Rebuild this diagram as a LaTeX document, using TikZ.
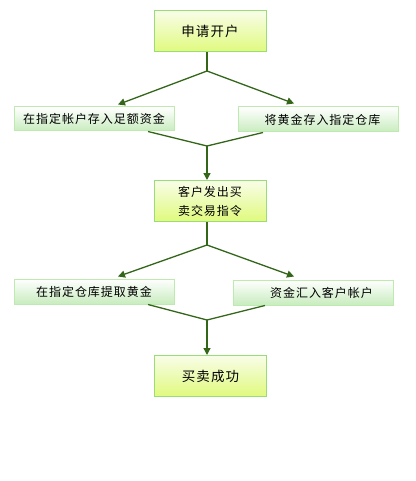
\documentclass[tikz,border=0pt]{standalone}
\usepackage{fontspec}
\setmainfont[LetterSpace=8]{Noto Sans CJK SC}
\usetikzlibrary{arrows.meta}
\definecolor{linegreen}{RGB}{51,102,25}
\definecolor{bigtop}{RGB}{248,253,232}
\definecolor{bigbottom}{RGB}{224,250,125}
\definecolor{bigborder}{RGB}{152,221,120}
\definecolor{smalltop}{RGB}{255,255,255}
\definecolor{smallbottom}{RGB}{200,236,190}
\definecolor{smallborder}{RGB}{190,234,176}
\newcommand*{\bigtextstyle}{\fontsize{13.5}{19}\selectfont}
\newcommand*{\smalltextstyle}{\fontsize{12}{16}\selectfont}
\begin{document}
\begin{tikzpicture}[x=1pt, y=-1pt, >={Triangle[length=7pt,width=7pt]}]
    \useasboundingbox[fill=white] (0,0) rectangle (415,481);

    % main steps
    \node[draw=bigborder, line width=1pt, top color=bigtop, bottom color=bigbottom,
        minimum width=112pt, minimum height=41pt,
        font=\bigtextstyle] (open) at (210, 31.5) {申请开户};

    \node[draw=bigborder, line width=1pt, top color=bigtop, bottom color=bigbottom,
        minimum width=112pt, minimum height=41pt, align=center,
        font=\smalltextstyle, inner sep=2pt] (trade) at (210, 201)
        {客户发出买\\[3pt] 卖交易指令};

    \node[draw=bigborder, line width=1pt, top color=bigtop, bottom color=bigbottom,
        minimum width=112pt, minimum height=41pt,
        font=\bigtextstyle] (done) at (210.5, 376) {买卖成功};

    % deposit
    \node[draw=smallborder, line width=1pt, top color=smalltop, bottom color=smallbottom,
        minimum width=160pt, minimum height=24pt,
        font=\smalltextstyle] (fund) at (94, 119) {在指定帐户存入足额资金};

    \node[draw=smallborder, line width=1pt, top color=smalltop, bottom color=smallbottom,
        minimum width=160pt, minimum height=25pt,
        font=\smalltextstyle] (gold) at (318, 119.5) {\hspace{9pt}将黄金存入指定仓库};

    % settle
    \node[draw=smallborder, line width=1pt, top color=smalltop, bottom color=smallbottom,
        minimum width=160pt, minimum height=25pt,
        font=\smalltextstyle] (fetch) at (94, 291.5) {在指定仓库提取黄金};

    \node[draw=smallborder, line width=1pt, top color=smalltop, bottom color=smallbottom,
        minimum width=160pt, minimum height=25pt,
        font=\smalltextstyle] (remit) at (313, 292.5) {\hspace{17pt}资金汇入客户帐户};

    \coordinate (j1) at (207, 71);
    \coordinate (j2) at (207, 146);
    \coordinate (j3) at (207, 245);
    \coordinate (j4) at (207, 320);

    \draw[linegreen, line width=1.3pt] (open.south -| j1) -- (j1);
    \draw[->, linegreen, line width=1.3pt] (j1) -- ([xshift=24pt, yshift=2pt]fund.north);
    \draw[->, linegreen, line width=1.3pt] (j1) -- ([xshift=-24pt, yshift=3pt]gold.north);
    \draw[linegreen, line width=1.3pt] ([xshift=54pt]fund.south) -- (j2);
    \draw[linegreen, line width=1.3pt] ([xshift=-55pt]gold.south) -- (j2);
    \draw[->, linegreen, line width=1.3pt] (j2) -- (j2 |- trade.north);

    \draw[linegreen, line width=1.3pt] (trade.south -| j3) -- (j3);
    \draw[->, linegreen, line width=1.3pt] (j3) -- ([xshift=24pt, yshift=2pt]fetch.north);
    \draw[->, linegreen, line width=1.3pt] (j3) -- ([xshift=-19pt, yshift=3pt]remit.north);
    \draw[linegreen, line width=1.3pt] ([xshift=54pt]fetch.south) -- (j4);
    \draw[linegreen, line width=1.3pt] ([xshift=-48pt]remit.south) -- (j4);
    \draw[->, linegreen, line width=1.3pt] (j4) -- (j4 |- done.north);

\end{tikzpicture}
\end{document}
